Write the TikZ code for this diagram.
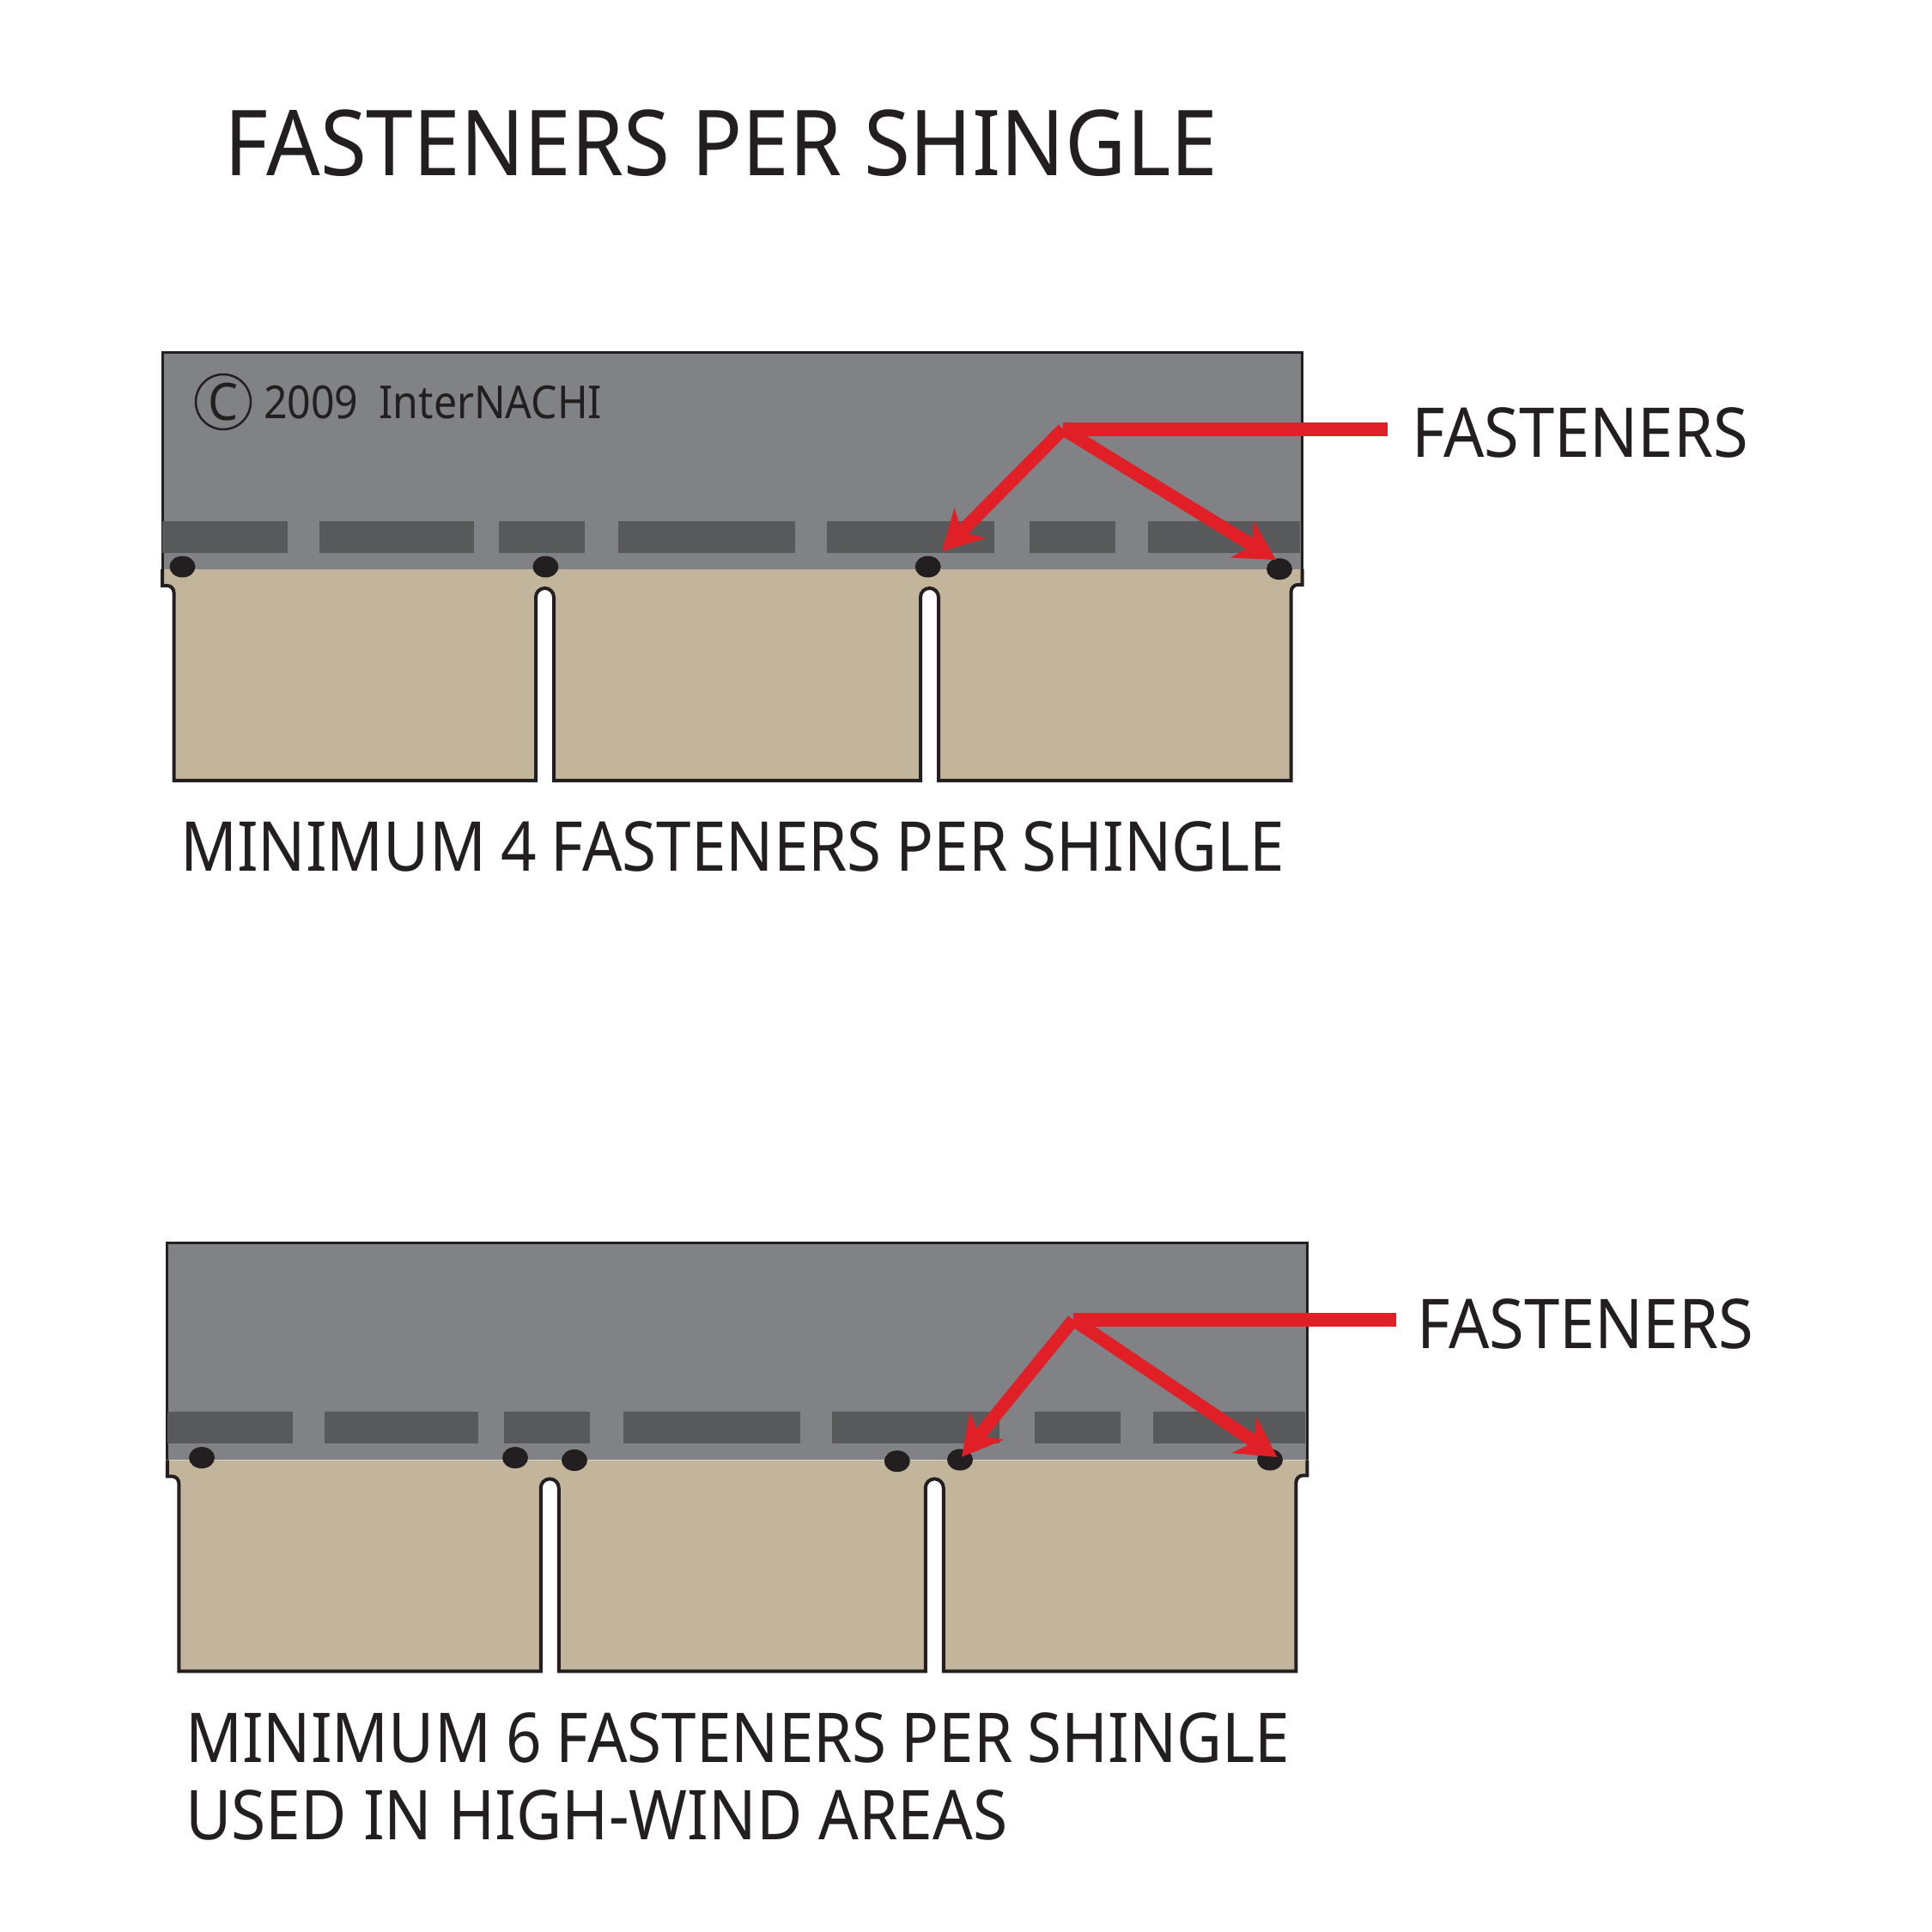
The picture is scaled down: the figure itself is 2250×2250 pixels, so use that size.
\documentclass[tikz,border=0pt]{standalone}
\usepackage{fontspec}
\setmainfont[FakeStretch=0.926]{Noto Sans}
\newfontfamily\rulefont[FakeStretch=0.91,WordSpace=0.9]{Noto Sans}
\newfontfamily\widerulefont[FakeStretch=0.915,WordSpace=1.0]{Noto Sans}
\usetikzlibrary{arrows.meta,shapes.geometric}
\definecolor{slategrey}{HTML}{808285}
\definecolor{tarstrip}{HTML}{58595B}
\definecolor{shingletan}{HTML}{C2B59B}
\definecolor{inkblack}{HTML}{231F20}
\definecolor{pointerred}{HTML}{E01F26}

\begin{document}
\begin{tikzpicture}[x=1pt,y=-1pt,
    fastener/.style={shape=ellipse,fill=inkblack,minimum width=30,minimum height=25,inner sep=0},
    pointer/.style={draw=pointerred,line width=15,-{Stealth[length=46,width=50,inset=14]}},
    leader/.style={draw=pointerred,line width=16},
    outline/.style={draw=inkblack,line width=4},
    caption/.style={anchor=base west,inner sep=0,text=inkblack,font=\rulefont\fontsize{80}{80}\selectfont}]
    \useasboundingbox (0,0) rectangle (2250,2250);
    \node[caption,font=\fontsize{106}{106}\selectfont] (title) at (261,205) {FASTENERS PER SHINGLE};
    % the same strip of shingles twice
    \foreach \dx/\dy in {0/0,5.8/1037.3} {
        \begin{scope}[shift={(\dx,\dy)}]
            \path[outline,fill=shingletan] (189,663) -- (189,682) -- (194.5,682)
                arc[start angle=270,end angle=360,radius=8] -- (202.5,909) -- (624,909)
                -- (624,695.5) arc[start angle=180,end angle=360,radius=10.5] -- (645,909) -- (1072,909)
                -- (1072,695.5) arc[start angle=180,end angle=360,radius=10.5] -- (1093,909) -- (1503.6,909)
                -- (1503.6,689) arc[start angle=180,end angle=270,radius=8] -- (1516.6,681) -- (1516.6,663);
            \fill[slategrey] (189,410) rectangle (1516.6,663);
            \draw[outline,line width=3] (189,663) -- (189,410) -- (1516.6,410) -- (1516.6,663);
            \foreach \xa/\xb in {189/335,372/551.5,581/681,720/926,963/1158,1199/1299,1337/1514}
                \fill[tarstrip] (\xa,607) rectangle (\xb,644);
        \end{scope}
    }
    \node[caption,font=\rulefont\fontsize{53}{53}\selectfont] (year) at (307,487) {2009\hspace{24pt}InterNACHI};
    \node[shape=circle,draw=inkblack,line width=2.5,minimum size=64,inner sep=0,text=inkblack,font=\fontsize{60}{60}\selectfont] (copy) at (260,468) {C};
    \node[fastener] (f_1) at (212.5,660) {};
    \node[fastener] (f_2) at (635.4,660) {};
    \node[fastener] (f_3) at (1080.7,660) {};
    \node[fastener] (f_4) at (1490,662.7) {};
    \node[fastener] (g_1) at (235,1697.6) {};
    \node[fastener] (g_2) at (600,1697.6) {};
    \node[fastener] (g_3) at (669,1700.5) {};
    \node[fastener] (g_4) at (1044.8,1701.7) {};
    \node[fastener] (g_5) at (1118,1700) {};
    \node[fastener] (g_6) at (1479,1700) {};
    \node[caption,font=\fontsize{80}{80}\selectfont] (labela) at (1644,532) {FASTENERS};
    \node[caption,font=\fontsize{80}{80}\selectfont] (labelb) at (1650,1570) {FASTENERS};
    \node[caption] (rulea) at (210,1014) {MINIMUM 4 FASTENERS PER SHINGLE};
    \node[caption] (ruleb) at (216,2052) {MINIMUM 6 FASTENERS PER SHINGLE};
    \node[caption,font=\widerulefont\fontsize{80}{80}\selectfont] (rulec) at (216,2142) {USED IN HIGH-WIND AREAS};
    \coordinate (apexa) at (1238,499.7);
    \coordinate (enda) at (1616,499.7);
    \coordinate (tipa_1) at (1097,642);
    \coordinate (tipa_2) at (1486,652);
    \coordinate (apexb) at (1250,1537);
    \coordinate (endb) at (1626,1537);
    \coordinate (tipb_1) at (1120,1696.7);
    \coordinate (tipb_2) at (1487.5,1697);
    \path (enda) edge[leader] (apexa) (endb) edge[leader] (apexb);
    \path
        (apexa) edge[pointer] (tipa_1)
                edge[pointer] (tipa_2)
        (apexb) edge[pointer] (tipb_1)
                edge[pointer] (tipb_2);
\end{tikzpicture}
\end{document}
